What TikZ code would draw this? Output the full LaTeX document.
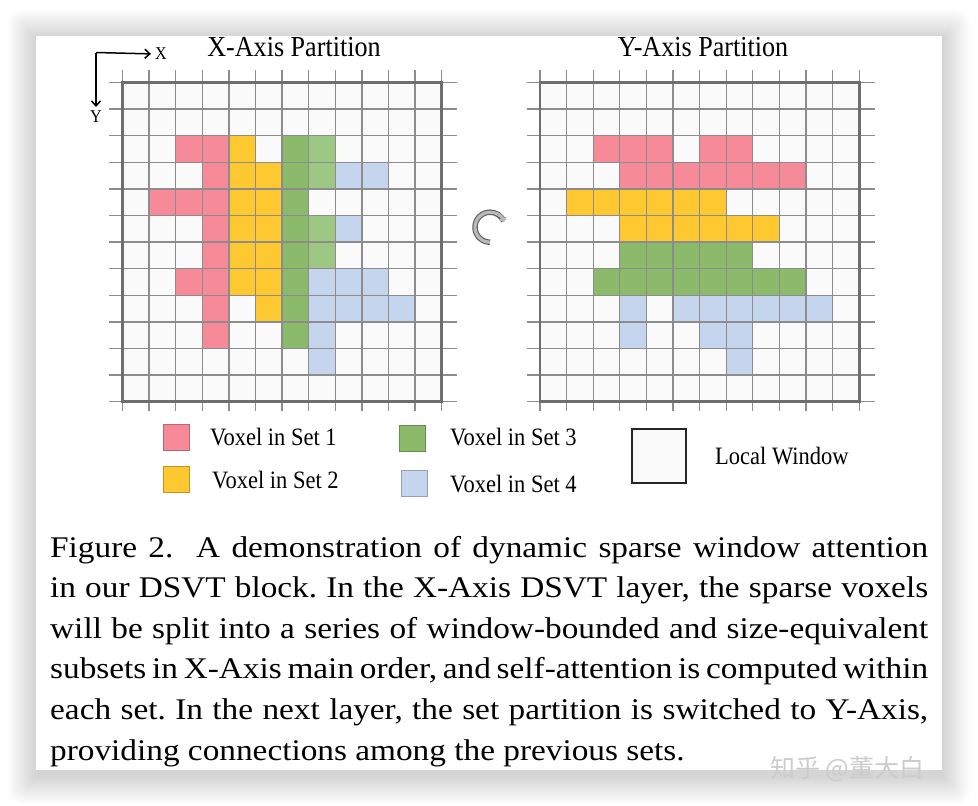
\documentclass[tikz,border=0pt]{standalone}
\usepackage{fontspec}
\setmainfont{Liberation Serif}[FakeStretch=0.9]
\newfontfamily\capfont{Liberation Serif}[FakeStretch=1.11]
\newfontfamily\cjkfont{Noto Sans CJK SC}
\usetikzlibrary{arrows.meta}
\definecolor{setpink}{HTML}{F78A98}
\definecolor{setyellow}{HTML}{FDC830}
\definecolor{setgreen}{HTML}{8ABA6A}
\definecolor{setlightgreen}{HTML}{9DC883}
\definecolor{setblue}{HTML}{C6D5EE}
\definecolor{cellgray}{HTML}{FAFAFA}
\definecolor{gridgray}{HTML}{8C8C8C}
\definecolor{bordergray}{HTML}{6E6E6E}
\newcommand\voxels[2]{\foreach \i/\j in {#2} {\fill[#1] (\i*26.6,\j*26.6) rectangle ++(26.6,26.6);}}
\newcommand\windowgrid{%
  \foreach \k in {0,...,12} {
    \draw[gridline] (\k*26.6,-12.5) -- (\k*26.6,328.5);
    \draw[gridline] (-13.5,\k*26.6) -- (334.5,\k*26.6);
  }
  \draw[border] (0,0) rectangle (319.2,319.2);}

\begin{document}
\frenchspacing
\begin{tikzpicture}[x=1pt,y=-1pt,
  gridline/.style={gridgray, line width=1.3pt},
  border/.style={bordergray, line width=2.6pt},
  legendbox/.style={draw=#1!75!black, line width=0.6pt, fill=#1, minimum size=26pt, inner sep=0pt},
  legendtext/.style={anchor=base west, inner sep=0pt, font=\fontsize{25}{25}\selectfont},
  title/.style={anchor=base, inner sep=0pt, font=\fontsize{29}{29}\selectfont},
  captionline/.style={anchor=base west, inner sep=0pt, font=\capfont\fontsize{30}{40}\selectfont},
  axisarrow/.style={-{Straight Barb[length=5pt,width=9pt]}, line width=1.5pt}]
  \useasboundingbox (0,0) rectangle (978,806);
  \fill[white] (0,0) rectangle (978,806);
  \foreach \s in {1,...,14}
    \fill[black, opacity=0.013, rounded corners=\s pt] (36-2*\s,36-2*\s+2) rectangle (942+2*\s,770+2*\s+6);
  \fill[white] (36,36) rectangle (942,770);

  % axes
  \coordinate (origin) at (96,52.5);
  \node[inner sep=0pt, font=\fontsize{18}{18}\selectfont] (xlabel) at (161,54) {X};
  \node[inner sep=0pt, anchor=north, font=\fontsize{18}{18}\selectfont] (ylabel) at (96,111) {Y};
  \draw[axisarrow, shorten >=4pt] (origin) -- (xlabel.west);
  \draw[axisarrow, shorten >=4pt] (origin) -- (ylabel.north);

  \node[title] (xtitle) at (294,56.5) {X-Axis Partition};
  \node[title] (ytitle) at (703,56.5) {Y-Axis Partition};

  % X-axis partition
  \begin{scope}[shift={(122.5,82.5)}]
    \fill[cellgray] (0,0) rectangle (319.2,319.2);
    \voxels{setpink}{2/2,3/2,3/3,1/4,2/4,3/4,3/5,3/6,2/7,3/7,3/8,3/9}
    \voxels{setyellow}{4/2,4/3,5/3,4/4,5/4,4/5,5/5,4/6,5/6,4/7,5/7,5/8}
    \voxels{setgreen}{6/2,6/3,6/4,6/5,6/6,6/7,6/8,6/9}
    \voxels{setlightgreen}{7/2,7/3,7/5,7/6}
    \voxels{setblue}{8/3,9/3,8/5,7/7,8/7,9/7,7/8,8/8,9/8,10/8,7/9,7/10}
    \windowgrid
  \end{scope}

  % Y-axis partition
  \begin{scope}[shift={(540,82.5)}]
    \fill[cellgray] (0,0) rectangle (319.2,319.2);
    \voxels{setpink}{2/2,3/2,4/2,6/2,7/2,3/3,4/3,5/3,6/3,7/3,8/3,9/3}
    \voxels{setyellow}{1/4,2/4,3/4,4/4,5/4,6/4,3/5,4/5,5/5,6/5,7/5,8/5}
    \voxels{setgreen}{3/6,4/6,5/6,6/6,7/6,2/7,3/7,4/7,5/7,6/7,7/7,8/7,9/7}
    \voxels{setblue}{3/8,5/8,6/8,7/8,8/8,9/8,10/8,3/9,6/9,7/9,7/10}
    \windowgrid
  \end{scope}

  % rotation
  \node[inner sep=0pt, minimum size=30pt] (rot) at (490,227) {};
  \draw[gray!75!black, line width=5.5pt] (rot.south) arc[start angle=90, end angle=335, radius=15];
  \draw[gray!55, line width=3.2pt, -{Triangle[length=4pt,width=9pt]}] (rot.south) arc[start angle=90, end angle=340, radius=15];

  % legend
  \node[legendbox=setpink] (leg1) at (176,437) {};
  \node[legendbox=setyellow] (leg2) at (176,479.5) {};
  \node[legendbox=setgreen] (leg3) at (412.5,438) {};
  \node[legendbox=setblue] (leg4) at (414.5,483) {};
  \node[draw=black!85, line width=2pt, fill=cellgray, minimum size=54pt, inner sep=0pt] (win) at (659,456) {};
  \node[legendtext] (set1) at (210,445) {Voxel in Set 1};
  \node[legendtext] (set2) at (212,488) {Voxel in Set 2};
  \node[legendtext] (set3) at (450,445) {Voxel in Set 3};
  \node[legendtext] (set4) at (450,492) {Voxel in Set 4};
  \node[legendtext] (winlabel) at (715,464.5) {Local Window};

  % caption
  \node[captionline] (cap1) at (50,557) {\makebox[878pt][s]{Figure 2.\ \ A demonstration of dynamic sparse window attention}};
  \node[captionline] (cap2) at (50,597.6) {\makebox[878pt][s]{in our DSVT block. In the X-Axis DSVT layer, the sparse voxels}};
  \node[captionline] (cap3) at (50,638.2) {\makebox[878pt][s]{will be split into a series of window-bounded and size-equivalent}};
  \node[captionline] (cap4) at (50,678.8) {\makebox[878pt][s]{subsets in X-Axis main order, and self-attention is computed within}};
  \node[captionline] (cap5) at (50,719.4) {\makebox[878pt][s]{each set. In the next layer, the set partition is switched to Y-Axis,}};
  \node[captionline] (cap6) at (50,760) {providing connections among the previous sets.};

  \node[anchor=base west, inner sep=0pt, text=gray!40, font=\cjkfont\fontsize{25}{25}\selectfont] (mark) at (770,777) {知乎 @董大白};
\end{tikzpicture}
\end{document}
